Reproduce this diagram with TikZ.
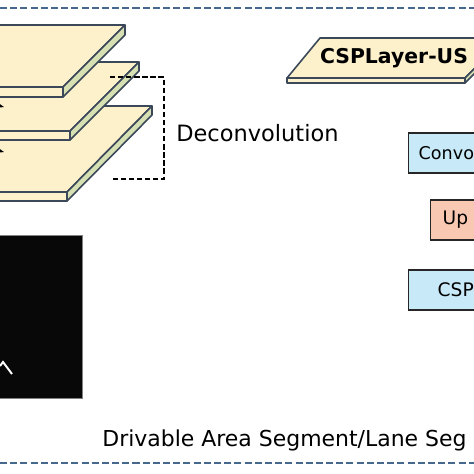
\documentclass[tikz,border=0pt]{standalone}
\usepackage{fontspec}
\setmainfont{DejaVu Sans}
\usetikzlibrary{arrows.meta}
\definecolor{plateColor}{RGB}{252,241,202}
\definecolor{sideColor}{RGB}{214,224,178}
\definecolor{edgeColor}{RGB}{58,72,90}
\definecolor{convColor}{RGB}{200,234,248}
\definecolor{upColor}{RGB}{248,200,178}
\definecolor{sepColor}{RGB}{70,104,140}

\begin{document}
\begin{tikzpicture}[x=0.02cm,y=-0.02cm]

          \tikzstyle{plateTop} = [fill=plateColor, draw=edgeColor, line width=0.9pt, line join=round];
          \tikzstyle{plateSide} = [fill=sideColor, draw=edgeColor, line width=0.9pt, line join=round];
          \tikzstyle{sepLine} = [sepColor, line width=0.9pt, dash pattern=on 4pt off 1.8pt];
          \tikzstyle{bracketLine} = [black, line width=0.7pt, dash pattern=on 3pt off 1.6pt];
          \tikzstyle{labelText} = [font=\fontsize{12.8}{15}\selectfont, inner sep=0pt, anchor=west];
          \tikzstyle{opBox} = [draw=black!85, line width=0.8pt, font=\fontsize{10.6}{13}\selectfont, minimum height=0.8cm, text width=2.4cm, align=left, anchor=west];

          \useasboundingbox (0,0) rectangle (474,474);
          \clip (0,0) rectangle (474,474);

          % separators
          \coordinate (sepTL) at (0,8);
          \coordinate (sepTR) at (474,8);
          \coordinate (sepBL) at (0,463);
          \coordinate (sepBR) at (474,463);
          \draw[sepLine] (sepTL) -- (sepTR);
          \draw[sepLine] (sepBL) -- (sepBR);

          % stacked feature maps
          \draw[plateTop] (-20,106) -- (152,106) -- (67,192) -- (-20,192) -- cycle;
          \draw[plateTop] (-20,192) rectangle (67,201);
          \draw[plateSide] (67,192) -- (152,106) -- (152,115) -- (67,201) -- cycle;

          \draw[plateTop] (-20,62) -- (139,62) -- (70,131) -- (-20,131) -- cycle;
          \draw[plateTop] (-20,131) rectangle (70,140);
          \draw[plateSide] (70,131) -- (139,62) -- (139,71) -- (70,140) -- cycle;

          \draw[plateTop] (-20,25) -- (125,25) -- (63,87) -- (-20,87) -- cycle;
          \draw[plateTop] (-20,87) rectangle (63,97);
          \draw[plateSide] (63,87) -- (125,25) -- (125,35) -- (63,97) -- cycle;

          \coordinate (inA) at (-8,104);
          \coordinate (inAend) at (4,107);
          \coordinate (inB) at (-8,149);
          \coordinate (inBend) at (4,152);
          \draw[-{Stealth[length=4pt]}, line width=0.7pt] (inA) -- (inAend);
          \draw[-{Stealth[length=4pt]}, line width=0.7pt] (inB) -- (inBend);

          \coordinate (brTL) at (110,77);
          \coordinate (brTR) at (164,77);
          \coordinate (brBR) at (164,179);
          \coordinate (brBL) at (110,179);
          \draw[bracketLine] (brTL) -- (brTR) -- (brBR) -- (brBL);

          \node[labelText] (deconv) at (176,133) {Deconvolution};

          % legend
          \draw[plateTop] (287,78) -- (465,78) -- (505,38) -- (320,38) -- cycle;
          \draw[plateTop] (287,78) rectangle (465,83);
          \draw[plateSide] (465,78) -- (505,38) -- (505,43) -- (465,83) -- cycle;
          \node[font=\fontsize{11.6}{14}\selectfont\bfseries] (cspUS) at (394,58) {CSPLayer-US};

          \node[opBox, fill=convColor, inner xsep=0.2cm, font=\fontsize{10}{13}\selectfont] (conv) at (408,153) {Convo};
          \node[opBox, fill=upColor, inner xsep=0.24cm] (up) at (430,220) {Up};
          \node[opBox, fill=convColor, inner xsep=0.58cm] (csp) at (408,290) {CSP};

          % output mask
          \fill[black!97] (-10,235) rectangle (82,398);
          \draw[gray, line width=0.4pt] (-10,235) rectangle (82,398);
          \draw[white, line width=1.1pt] (0,366) -- (3,362) -- (12,374);

          \node[labelText, font=\fontsize{12.5}{15}\selectfont] (drivable) at (102,440) {Drivable Area Segment/Lane Seg};
        \end{tikzpicture}
\end{document}
